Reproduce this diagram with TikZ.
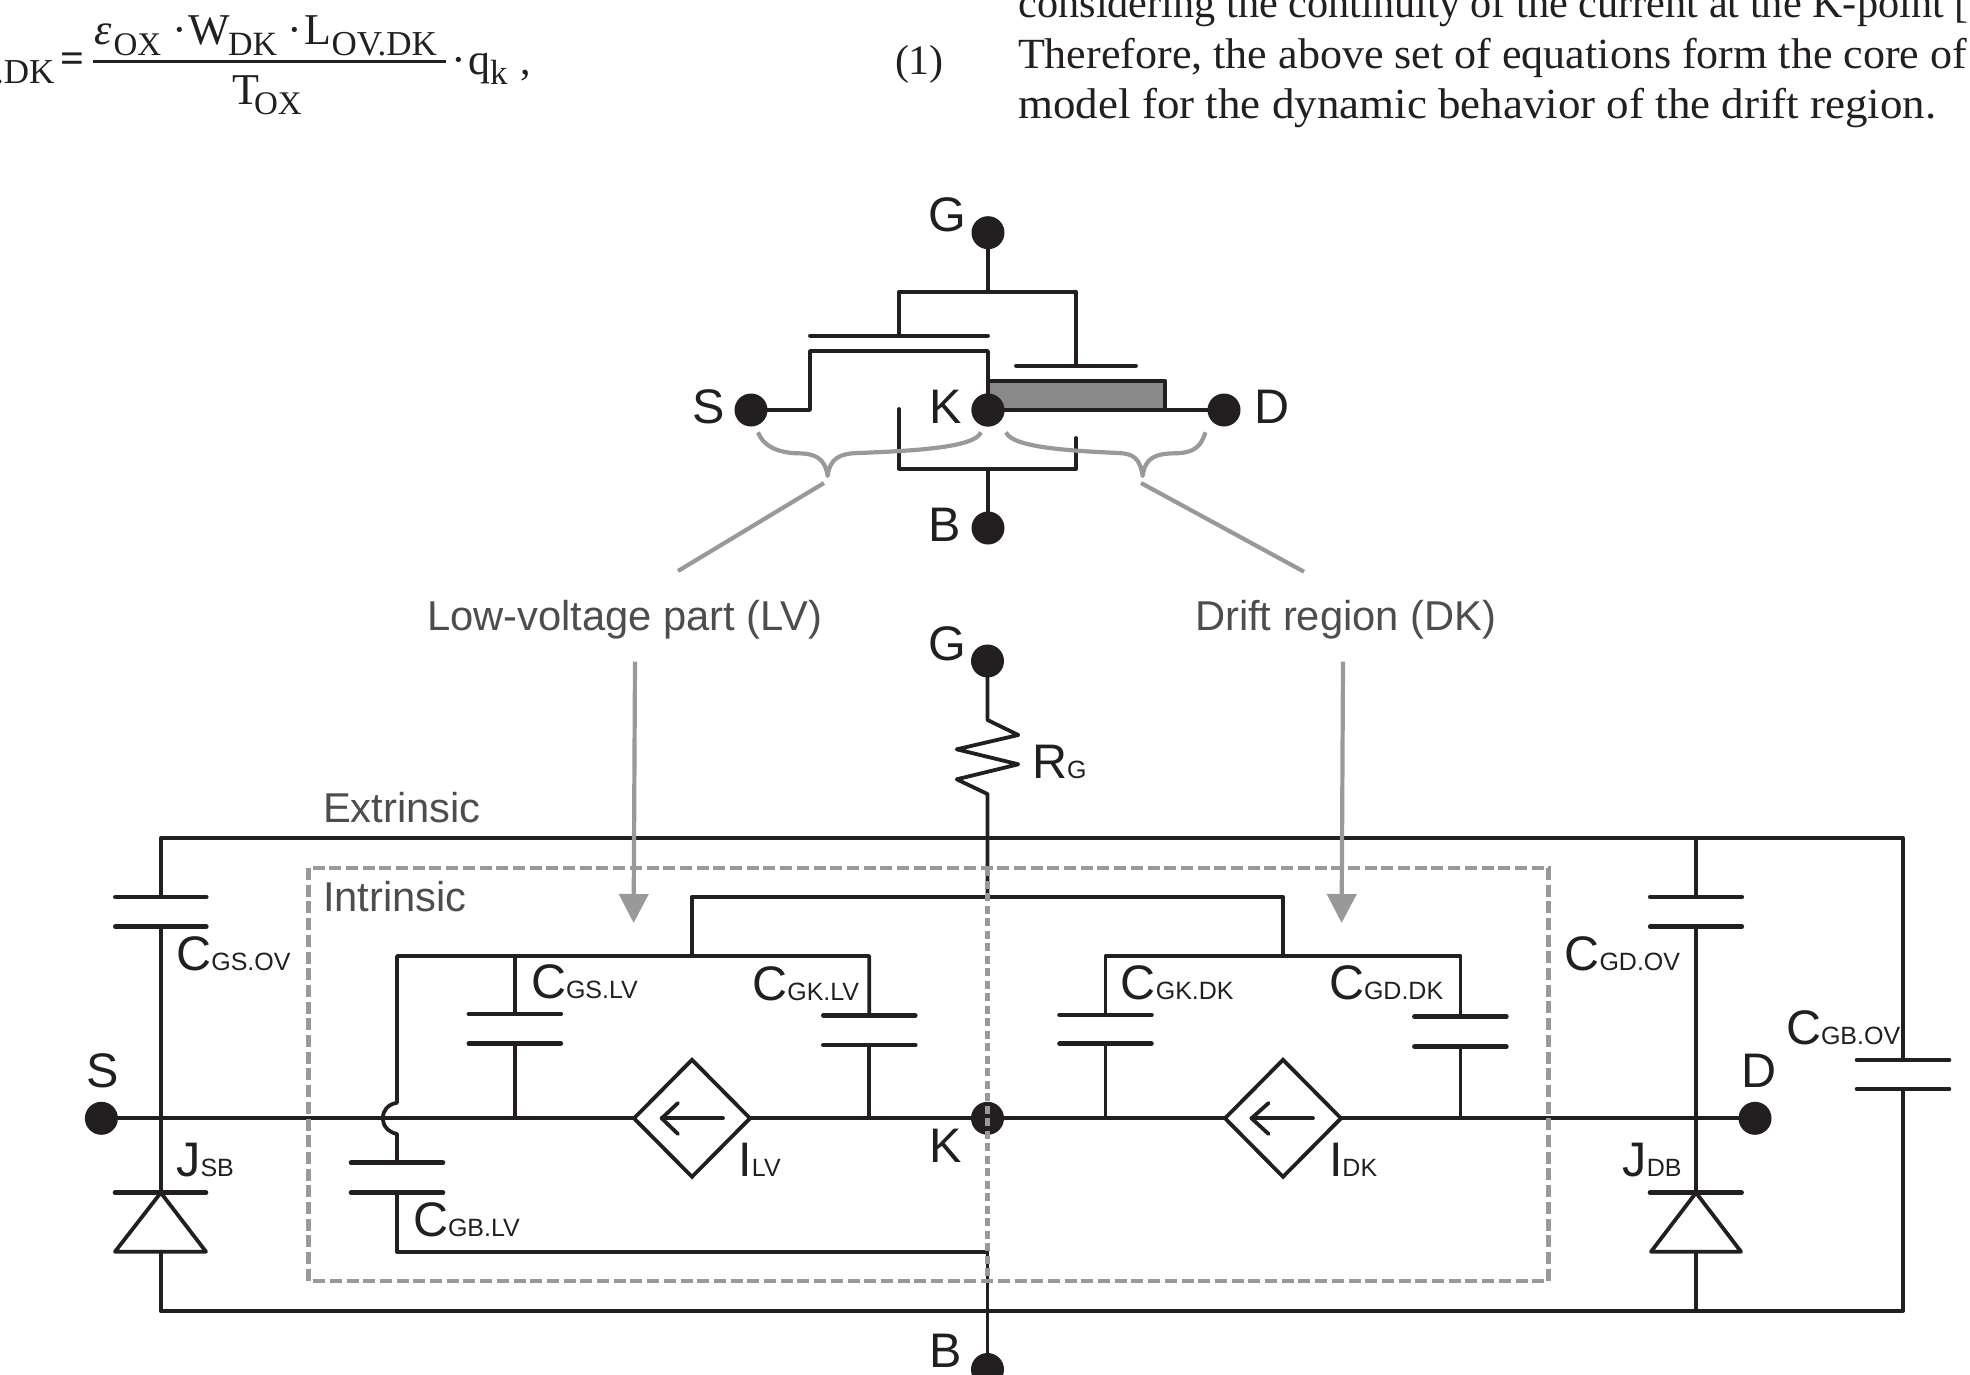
\documentclass[tikz,border=0pt]{standalone}
\usepackage{fontspec}
\usepackage{graphicx}
\setmainfont{Liberation Sans}
\newfontfamily\pal{Liberation Serif}
\usetikzlibrary{shapes.geometric,arrows.meta}
\definecolor{ink}{HTML}{231F20}
\definecolor{lgray}{HTML}{999999}
\definecolor{tgray}{HTML}{4D4D4E}
\definecolor{oxide}{HTML}{8A898A}
\newcommand{\fs}[1]{\fontsize{#1}{#1}\selectfont}
% label: name, x, baseline y, main letter, subscript
\newcommand{\lab}[5]{\node[lbl,text=ink] (#1) at (#2-1,#3) {\fs{48.5}#4\fs{25}#5};}
% grey annotation: name, x, baseline y, text
\newcommand{\ann}[4]{\node[lbl,text=tgray] (#1) at (#2,#3) {\fs{41.7}#4};}
% serif text piece: name, x, baseline y, size, text
\newcommand{\eqt}[5]{\node[lbl,text=ink] (#1) at (#2,#3) {\pal\fs{#4}#5};}
% capacitor: name, x, top y, bottom y, half-width
\newcommand{\capv}[5]{%
  \coordinate (#1-t) at (#2,#3);\coordinate (#1-b) at (#2,#4);
  \draw[plate] (#2-#5,#3) -- (#2+#5,#3);
  \draw[plate] (#2-#5,#4) -- (#2+#5,#4);}
\tikzset{
  lbl/.style={anchor=base west,inner sep=0pt,outer sep=0pt},
  wire/.style={draw=ink,line width=3.8pt,line cap=round,line join=round},
  plate/.style={draw=ink,line width=4.6pt,line cap=round},
  dot/.style={circle,fill=ink,minimum size=33pt,inner sep=0pt,outer sep=0pt},
  src/.style={diamond,draw=ink,line width=3.8pt,minimum width=116pt,minimum height=117pt,inner sep=0pt,outer sep=0pt,fill=white},
  gline/.style={draw=lgray,line width=4.2pt,line join=round},
  box/.style={draw=lgray,line width=4.5pt,dash pattern=on 12pt off 4.7pt},
  vdash/.style={draw=lgray,line width=4.5pt,dash pattern=on 8pt off 4.5pt},
  garrow/.style={gline,-{Triangle[length=29pt,width=29pt,fill=lgray]}}
}
\begin{document}
\begin{tikzpicture}[x=1pt,y=-1pt]
\useasboundingbox (0,0) rectangle (1970,1375);

% ---- page text around the figure
\eqt{eqa}{-5}{84}{35}{.DK}
\node[lbl,text=ink] (eqb) at (60,73) {\pal\bfseries\fs{42}=};
\eqt{eqc}{94.4}{45}{44}{\itshape ε}
\eqt{eqd}{113.5}{56}{33}{OX}
\eqt{eqe}{172}{45}{44}{·}
\eqt{eqf}{188}{45}{44}{W}
\eqt{eqg}{228}{56}{34}{DK}
\eqt{eqh}{287}{45}{44}{·}
\eqt{eqi}{304}{45}{44}{L}
\eqt{eqj}{331.6}{56}{35}{OV.DK}
\coordinate (barL) at (92.5,61.7);
\coordinate (barR) at (446,61.7);
\draw[draw=ink,line width=2.6pt] (barL) -- (barR);
\eqt{eqk}{232}{105}{44}{T}
\eqt{eql}{254}{115}{33}{OX}
\eqt{eqm}{451}{75}{44}{·}
\eqt{eqn}{468}{75}{44}{q}
\eqt{eqo}{490}{85}{35}{k}
\eqt{eqp}{520}{75}{42}{,}
\eqt{eqq}{895}{75}{42}{(1)}
\node[lbl,text=ink] (pa) at (1018.5,18) {\pal\fs{43}\resizebox{950pt}{\height}{considering the continuity of the current at the K-point [}};
\node[lbl,text=ink] (pb) at (1018,69) {\pal\fs{43}\resizebox{949pt}{\height}{Therefore, the above set of equations form the core of}};
\node[lbl,text=ink] (pc) at (1018.5,119) {\pal\fs{43}\resizebox{918pt}{\height}{model for the dynamic behavior of the drift region.}};

% ---- MOSFET symbol (top)
\node[dot] (tG) at (988,232.7) {};
\node[dot] (tS) at (751,410) {};
\node[dot] (tK) at (988,410) {};
\node[dot] (tD) at (1224,410) {};
\node[dot] (tB) at (988,528) {};
\coordinate (gj) at (988,291.7);
\coordinate (gjL) at (899,291.7);
\coordinate (gjR) at (1076,291.7);
\coordinate (g1) at (899,335.7);
\coordinate (g2) at (1076,365.7);
\coordinate (bj) at (988,468.7);
\coordinate (bjL) at (899,468.7);
\coordinate (bjR) at (1076,468.7);
\coordinate (bsL) at (899,409);
\coordinate (bsR) at (1076,438);
\coordinate (chA) at (810,410);
\coordinate (chB) at (810,351);
\coordinate (chC) at (988,351);
\draw[wire] (tG) -- (gj);
\draw[wire] (g1) -- (gjL) -- (gjR) -- (g2);
\draw[wire] (810,335.7) -- (988,335.7);
\draw[wire] (1016,365.7) -- (1136,365.7);
\draw[wire] (tS) -- (chA) -- (chB) -- (chC) -- (tK);
\draw[wire,fill=oxide] (988,380.7) rectangle (1165,410);
\draw[wire] (tK) -- (tD);
\draw[wire] (bsL) -- (bjL) -- (bjR) -- (bsR);
\draw[wire] (bj) -- (tB);
\node[dot] at (tK) {};
\lab{ltG}{929.5}{231.7}{G}{}
\lab{ltS}{693.5}{423}{S}{}
\lab{ltK}{930.5}{423}{K}{}
\lab{ltD}{1255.5}{423}{D}{}
\lab{ltB}{929}{541.7}{B}{}

% ---- braces and leaders
\draw[gline] (758,432.3) .. controls (763,446) and (778,453) .. (798,453.3) .. controls (815,453.5) and (825,458) .. (827.6,476) .. controls (830,458) and (840,453.5) .. (858,453) .. controls (910,451) and (975,448) .. (981,432.3);
\draw[gline] (1006,432.3) .. controls (1012,448) and (1075,451) .. (1118,453) .. controls (1133,453.5) and (1140,458) .. (1142.6,476) .. controls (1145,458) and (1155,453.5) .. (1175,453.3) .. controls (1195,453) and (1201,446) .. (1205.5,432.3);
\coordinate (ldA) at (824,483);
\coordinate (ldB) at (678,571);
\coordinate (rdA) at (1141,483);
\coordinate (rdB) at (1304,571.7);
\draw[gline] (ldA) -- (ldB);
\draw[gline] (rdA) -- (rdB);
\ann{lLV}{427}{630}{Low-voltage part (LV)}
\ann{lDK}{1195}{630}{Drift region (DK)}
\coordinate (alA) at (635,661.7);
\coordinate (alB) at (633.6,923);
\coordinate (arA) at (1343,661.7);
\coordinate (arB) at (1341.6,923);

% ---- equivalent circuit: terminals and sources
\node[dot] (G) at (987.5,661) {};
\node[dot] (S) at (101.4,1118.3) {};
\node[dot] (K) at (987.5,1118.3) {};
\node[dot] (D) at (1755,1118.3) {};
\node[dot] (B) at (987.5,1369.5) {};
\node[src] (iLV) at (692,1118.3) {};
\node[src] (iDK) at (1283,1118.3) {};

% gate resistor and drop into the model
\coordinate (rT) at (987.5,720);
\coordinate (rB) at (987.5,794);
\coordinate (gE) at (987.5,868);
\draw[wire] (G) -- (rT) -- (1018.3,735) -- (956.7,749.3) -- (1018.3,764.3) -- (956.7,779.3) -- (rB) -- (gE) -- (987.5,897);

% extrinsic rails
\coordinate (tl) at (160.8,838);
\coordinate (tr) at (1903,838);
\coordinate (bl) at (160.8,1310.7);
\coordinate (br) at (1903,1310.7);
\coordinate (bm) at (987.5,1310.7);
\capv{cgsov}{160.8}{897}{926.7}{45.5}
\capv{cgdov}{1696}{897}{926.7}{45.8}
\capv{cgbov}{1903}{1060}{1089}{46}
\draw[wire] (cgsov-t) -- (tl) -- (tr) -- (cgbov-t);
\draw[wire] (cgbov-b) -- (br) -- (bl);
\draw[wire] (1696,838) -- (cgdov-t);
% source-side junction
\coordinate (jsA) at (160.8,1192.7);
\coordinate (jsB) at (160.8,1251.7);
\draw[plate] (115,1192.7) -- (206,1192.7);
\draw[wire] (jsA) -- (115,1251.7) -- (206,1251.7) -- cycle;
\draw[wire] (cgsov-b) -- (jsA);
\draw[wire] (jsB) -- (bl);
% drain-side junction
\coordinate (jdA) at (1696,1192.7);
\coordinate (jdB) at (1696,1251.7);
\draw[plate] (1650,1192.7) -- (1741.6,1192.7);
\draw[wire] (jdA) -- (1651,1251.7) -- (1741,1251.7) -- cycle;
\draw[wire] (cgdov-b) -- (jdA);
\draw[wire] (jdB) -- (1696,1310.7);

% main channel line
\draw[wire] (S) -- (iLV.west);
\draw[wire] (iLV.east) -- (K);
\draw[wire] (K) -- (iDK.west);
\draw[wire] (iDK.east) -- (D);

% source arrows
\draw[wire] (723,1118.3) -- (661.7,1118.3);
\draw[wire] (678,1103) -- (661.7,1118.3) -- (678,1134);
\draw[wire] (1313,1118.3) -- (1251.5,1118.3);
\draw[wire] (1268.6,1103) -- (1251.5,1118.3) -- (1268.6,1134);

% intrinsic gate bus
\coordinate (busL) at (691.6,897);
\coordinate (busR) at (1283,897);
\coordinate (lvJ) at (691.6,956);
\coordinate (dkJ) at (1283,956);
\draw[wire] (lvJ) -- (busL) -- (busR) -- (dkJ);

% LV capacitors
\capv{cgslv}{514.8}{1014}{1043.7}{46}
\capv{cgklv}{869.3}{1015.3}{1045}{46}
\capv{cgblv}{397}{1162.7}{1192.7}{46}
\coordinate (lvA) at (397,956);
\coordinate (lvB) at (869.3,956);
\draw[wire] (cgklv-t) -- (lvB) -- (lvA) -- (397,1102.7) .. controls (378,1106) and (378,1130) .. (397,1134) -- (cgblv-t);
\draw[wire] (514.8,956) -- (cgslv-t);
\draw[wire] (cgslv-b) -- (514.8,1118.3);
\draw[wire] (cgklv-b) -- (869.3,1118.3);
\coordinate (bbJ) at (987.5,1251.7);
\draw[wire] (cgblv-b) -- (397,1251.7) -- (bbJ) -- (B);

% DK capacitors
\capv{cgkdk}{1105.5}{1015}{1043.7}{46}
\capv{cgddk}{1460.4}{1016.7}{1046.7}{46}
\draw[wire] (cgkdk-t) -- (1105.5,956) -- (1460.4,956) -- (cgddk-t);
\draw[wire] (cgkdk-b) -- (1105.5,1118.3);
\draw[wire] (cgddk-b) -- (1460.4,1118.3);

% grey overlays
\coordinate (boxA) at (308.6,868);
\coordinate (boxB) at (1548.5,1281);
\draw[box] (boxA) rectangle (boxB);
\draw[vdash] (gE) -- (987.5,1281);
\draw[garrow] (alA) -- (alB);
\draw[garrow] (arA) -- (arB);

% labels
\lab{lG}{929.5}{660}{G}{}
\lab{lS}{87.5}{1087}{S}{}
\lab{lD}{1742.5}{1087}{D}{}
\lab{lK}{930.2}{1162}{K}{}
\lab{lB}{930.5}{1367}{B}{}
\lab{lRG}{1033}{778}{R}{G}
\lab{lCGSOV}{177.3}{970.7}{C}{GS.OV}
\lab{lCGSLV}{532}{998.7}{C}{GS.LV}
\lab{lCGKLV}{753.3}{1000}{C}{GK.LV}
\lab{lCGKDK}{1121.8}{999}{C}{GK.DK}
\lab{lCGDDK}{1330}{999}{C}{GD.DK}
\lab{lCGDOV}{1565.5}{970.7}{C}{GD.OV}
\lab{lCGBOV}{1787}{1044}{C}{GB.OV}
\lab{lCGBLV}{414}{1236}{C}{GB.LV}
\lab{lJSB}{177.3}{1176.7}{J}{SB}
\lab{lJDB}{1623.5}{1176.7}{J}{DB}
\lab{lILV}{739.5}{1176}{I}{LV}
\lab{lIDK}{1330}{1176}{I}{DK}
\ann{lExt}{323}{822}{Extrinsic}
\ann{lInt}{323}{911}{Intrinsic}
\end{tikzpicture}
\end{document}
